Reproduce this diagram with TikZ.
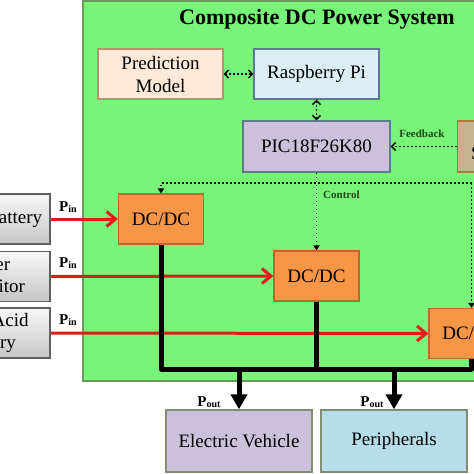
\documentclass[tikz,border=0pt]{standalone}
\usepackage{fontspec}
\setmainfont{Liberation Serif}
\usetikzlibrary{arrows.meta}
\definecolor{panelgreen}{HTML}{78F478}
\definecolor{panelborder}{HTML}{6A9A5E}
\definecolor{peach}{HTML}{FDE9D9}
\definecolor{peachborder}{HTML}{B8926A}
\definecolor{rpiblue}{HTML}{DBEEF4}
\definecolor{blueborder}{HTML}{5F7A8C}
\definecolor{lavender}{HTML}{CCC1DA}
\definecolor{tan}{HTML}{C6B28E}
\definecolor{tanborder}{HTML}{B07A3A}
\definecolor{dcorange}{HTML}{F79646}
\definecolor{dcborder}{HTML}{B86B2E}
\definecolor{periblue}{HTML}{B7DEE8}
\definecolor{outborder}{HTML}{7F8F6F}
\definecolor{pinred}{HTML}{E31A1C}
\definecolor{lblgreen}{HTML}{1A4A1A}
\tikzset{vbarb/.tip={Straight Barb[length=4pt,width=8pt,line width=1.4pt]}}
\begin{document}
\begin{tikzpicture}[x=1pt,y=-1pt,
  box/.style={draw, line width=1.3pt, inner sep=0pt, align=center,
    font=\fontsize{19}{23}\selectfont},
  srcbox/.style={draw=gray!75!black, line width=1.3pt, inner sep=0pt,
    top color=gray!6, bottom color=gray!45, minimum width=125, minimum height=50},
  srctext/.style={align=center, inner sep=0pt, font=\fontsize{19}{22}\selectfont},
  dcbox/.style={box, fill=dcorange, draw=dcborder, minimum width=85, minimum height=50},
  ctrl/.style={line width=1.8pt, dash pattern=on 1.8pt off 2.2pt},
  ctip/.style={-{Triangle[length=5pt,width=6.5pt]}},
  pinline/.style={draw=pinred, line width=3pt,
    -{Straight Barb[length=9pt,width=15pt,line width=3pt]}},
  bus/.style={line width=5pt, line join=round},
  outarrow/.style={line width=5pt, -{Triangle[length=15pt,width=16pt]}},
  plabel/.style={inner sep=0pt, font=\fontsize{15}{15}\selectfont\bfseries},
  smalllbl/.style={inner sep=0pt, text=lblgreen, font=\fontsize{11}{11}\selectfont\bfseries}]
\useasboundingbox (0,0) rectangle (474,474);
\clip (0,0) rectangle (474,474);
\fill[white] (0,0) rectangle (474,474);
% panel
\draw[fill=panelgreen, draw=panelborder, line width=1.5pt] (83,1) rectangle (560,381);
\node[inner sep=0pt, font=\fontsize{22}{22}\selectfont\bfseries] (title) at (317,19) {Composite DC Power System};
% top boxes
\node[box, fill=peach, draw=peachborder, minimum width=125, minimum height=50] (pred) at (160.5,74) {Prediction\\Model};
\node[box, fill=rpiblue, draw=blueborder, minimum width=125, minimum height=50] (rpi) at (316.5,74) {Raspberry Pi};
\node[box, fill=lavender, draw=blueborder, minimum width=147, minimum height=51] (pic) at (316.5,146.5) {PIC18F26K80};
\node[box, fill=tan, draw=tanborder, minimum width=90, minimum height=51, anchor=west] (sens) at (457,146.5) {};
\node[srctext, anchor=west] (senstext) at (471,153) {Sensor};
% DC/DC
\node[dcbox] (dc1) at (161,219) {DC/DC};
\node[dcbox] (dc2) at (316.5,276) {DC/DC};
\node[dcbox] (dc3) at (471.5,333.5) {DC/DC};
% sources
\node[srcbox] (bat) at (-12.5,219) {};
\node[srcbox] (sup) at (-12.5,276.5) {};
\node[srcbox] (lead) at (-12.5,333) {};
\node[srctext] (battext) at (-12,219) {Li-ion Battery};
\node[srctext] (suptext) at (-12,277) {Super\\Capacitor};
\node[srctext] (leadtext) at (-12,333) {Lead-Acid\\Battery};
% outputs
\node[box, fill=lavender, draw=outborder, minimum width=146, minimum height=62] (ev) at (239,441) {Electric Vehicle};
\node[box, fill=periblue, draw=outborder, minimum width=146, minimum height=62] (peri) at (394,441) {Peripherals};
% dotted links
\draw[ctrl, {vbarb}-{vbarb}] (pred.east) -- (rpi.west);
\draw[ctrl, {vbarb}-{vbarb}] (rpi.south) -- (pic.north);
\draw[ctrl, -{vbarb}] (sens.west) -- (pic.east);
\node[smalllbl] (fb) at (422,134) {Feedback};
\coordinate (cl) at (161,183);
\coordinate (cr) at (471.5,183);
\draw[ctrl, ctip] (pic.south) -- (dc2.north);
\draw[ctrl, ctip] (cr) -- (cl) -- (dc1.north);
\draw[ctrl, ctip] (cr) -- (dc3.north);
\node[smalllbl, anchor=west] (ctl) at (323,195) {Control};
% power in
\draw[pinline] (bat.east) -- (dc1.west);
\draw[pinline] (sup.east) -- (dc2.west);
\draw[pinline] (lead.east) -- (dc3.west);
\node[plabel] (p1) at (68,207) {P\raisebox{-0.2ex}{\fontsize{10}{10}\selectfont in}};
\node[plabel] (p2) at (68,263) {P\raisebox{-0.2ex}{\fontsize{10}{10}\selectfont in}};
\node[plabel] (p3) at (68,320) {P\raisebox{-0.2ex}{\fontsize{10}{10}\selectfont in}};
% bus
\coordinate (busr) at (471.5,369);
\draw[bus] (dc1.south) |- (busr) -- (dc3.south);
\draw[bus] (dc2.south) -- (dc2.south |- busr);
\draw[outarrow] (ev.north |- busr) -- (ev.north);
\draw[outarrow] (peri.north |- busr) -- (peri.north);
\node[plabel] (po1) at (209,402) {P\raisebox{-0.2ex}{\fontsize{10}{10}\selectfont out}};
\node[plabel] (po2) at (372,402) {P\raisebox{-0.2ex}{\fontsize{10}{10}\selectfont out}};
\end{tikzpicture}
\end{document}
